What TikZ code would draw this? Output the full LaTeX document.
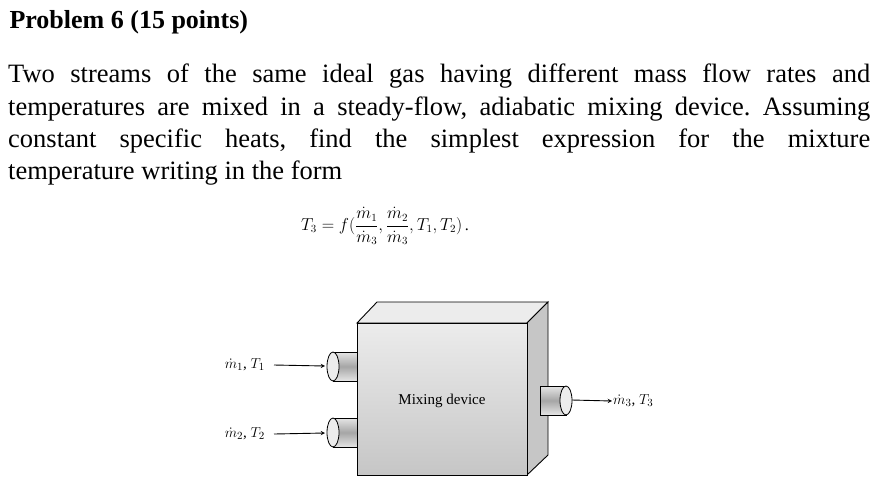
\documentclass[tikz,border=0pt]{standalone}
\usepackage{fontspec}
\setmainfont{Liberation Serif}
\usepackage{amsmath}
\begin{document}
\begin{tikzpicture}[x=1pt,y=-1pt,
  pipe/.style={draw,line width=0.8pt,top color=gray!20,bottom color=gray!20,middle color=gray!70},
  lab/.style={font=\fontsize{15}{17}\selectfont},
  flow/.style={-stealth,line width=0.9pt}]
\useasboundingbox (0,0) rectangle (877,483);
\node[anchor=west,font=\bfseries\fontsize{26}{28}\selectfont] (title) at (6,22) {Problem 6 (15 points)};
\node[anchor=north west,inner sep=0pt,text width=862pt,align=justify,font=\fontsize{26.5}{32.3}\selectfont] (para) at (8,64)
{\frenchspacing\hyphenpenalty=10000 Two streams of the same ideal gas having different mass flow rates and\linebreak temperatures are mixed in a steady-flow, adiabatic mixing device. Assuming\linebreak constant specific heats, find the simplest expression for the mixture\linebreak temperature writing in the form};
\node[font=\fontsize{16}{18}\selectfont] (eq) at (385,226) {$T_3=f(\dfrac{\dot m_1}{\dot m_3},\dfrac{\dot m_2}{\dot m_3},T_1,T_2)$\,.};
% box
\draw[line width=0.9pt,fill=gray!15] (357,323) -- (377,302) -- (548,302) -- (527,323) -- cycle;
\draw[line width=0.9pt,fill=gray!45] (527,323) -- (548,302) -- (548,455) -- (527,475) -- cycle;
\node[draw,line width=0.9pt,minimum width=170pt,minimum height=152pt,anchor=north west,top color=gray!15,bottom color=gray!45,inner sep=0pt] (box) at (357,323) {};
\node[lab] (mix) at (442,401) {Mixing device};
% pipes
\draw[pipe] (333,352) rectangle (357,381);
\draw[line width=0.8pt,fill=gray!15] (333,366.5) ellipse (6 and 14.5);
\coordinate (in1) at (325,366);
\draw[pipe] (333,418) rectangle (357,447);
\draw[line width=0.8pt,fill=gray!15] (333,432.5) ellipse (6 and 14.5);
\coordinate (in2) at (325,433);
\draw[pipe] (540,386) rectangle (566,415);
\draw[line width=0.8pt,fill=gray!15] (566,400.5) ellipse (6 and 14.5);
\coordinate (out) at (572,400);
% labels and arrows
\node[lab,anchor=east,inner sep=1pt] (l1) at (266,365) {$\dot m_1$, $T_1$};
\node[lab,anchor=east,inner sep=1pt] (l2) at (266,434) {$\dot m_2$, $T_2$};
\node[lab,anchor=west,inner sep=1pt] (l3) at (612,401) {$\dot m_3$, $T_3$};
\draw[flow] ([xshift=8pt]l1.east) -- (in1);
\draw[flow] ([xshift=8pt]l2.east) -- (in2);
\draw[flow] (out) -- (l3.west);
\end{tikzpicture}
\end{document}
